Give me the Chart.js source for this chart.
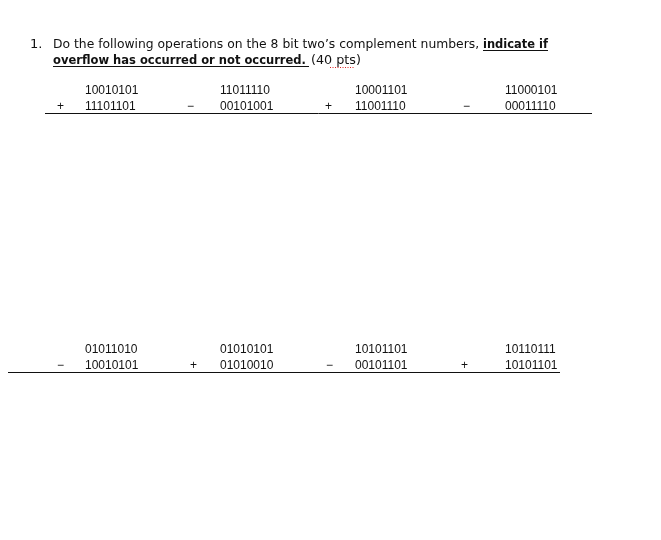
<!DOCTYPE html>
<html><head><meta charset="utf-8">
<script src="https://cdn.jsdelivr.net/npm/chart.js@4"></script>
<style>html,body{margin:0;padding:0;background:#fff}</style>
</head><body>
<canvas id="c" width="661" height="540"></canvas>
<script>
const columns = [85, 220, 355, 505];
const row1Top = ["10010101","11011110","10001101","11000101"];
const row1Bottom = ["11101101","00101001","11001110","00011110"];
const row1Ops = ["+","−","+","−"];
const row2Top = ["01011010","01010101","10101101","10110111"];
const row2Bottom = ["10010101","01010010","00101101","10101101"];
const row2Ops = ["−","+","−","+"];
const opX1 = [57, 187, 325, 463];
const opX2 = [57, 190, 326, 461];

const textPlugin = {
  id: 'doc',
  afterDraw(chart) {
    const ctx = chart.ctx, X = chart.scales.x, Y = chart.scales.y;
    const px = v => X.getPixelForValue(v), py = v => Y.getPixelForValue(v);
    ctx.save();
    ctx.fillStyle = '#111'; ctx.strokeStyle = '#111';
    ctx.textBaseline = 'alphabetic';
    ctx.font = '13px "DejaVu Sans"';
    ctx.fillText('1.', px(30), py(48));
    const l1a = 'Do the following operations on the 8 bit two’s complement numbers, ';
    ctx.fillText(l1a, px(53), py(48), 430);
    ctx.font = 'bold 13px "DejaVu Sans"';
    ctx.fillText('indicate if', px(483), py(48), 65);
    ctx.fillText('overflow has occurred or not occurred.', px(53), py(64), 253);
    ctx.font = '13px "DejaVu Sans"';
    ctx.fillText('(40 pts)', px(311), py(64), 50);
    ctx.lineWidth = 1;
    ctx.beginPath();
    ctx.moveTo(px(483), py(50.5)); ctx.lineTo(px(548), py(50.5));
    ctx.moveTo(px(53), py(66.5)); ctx.lineTo(px(309), py(66.5));
    ctx.stroke();
    ctx.strokeStyle = '#d22'; ctx.setLineDash([1,1.5]);
    ctx.beginPath(); ctx.moveTo(px(330), py(67.5)); ctx.lineTo(px(354), py(67.5)); ctx.stroke();
    ctx.setLineDash([]); ctx.strokeStyle = '#111';

    ctx.font = '12px "Liberation Sans"';
    const drawRow = (tops, bots, ops, opx, yTop, yBot, yLine, lx0, lx1) => {
      for (let i = 0; i < columns.length; i++) {
        ctx.fillText(tops[i], px(columns[i]), py(yTop), 56);
        ctx.fillText(bots[i], px(columns[i]), py(yBot), 56);
        ctx.fillText(ops[i], px(opx[i]), py(yBot));
      }
      ctx.beginPath(); ctx.moveTo(px(lx0), py(yLine)); ctx.lineTo(px(lx1), py(yLine)); ctx.stroke();
    };
    drawRow(row1Top, row1Bottom, row1Ops, opX1, 94, 110, 113.5, 45, 592);
    drawRow(row2Top, row2Bottom, row2Ops, opX2, 353, 369, 372.5, 8, 560);
    ctx.restore();
  }
};

new Chart(document.getElementById('c'), {
  type: 'scatter',
  data: { datasets: [{ data: [] }] },
  options: {
    responsive: false, animation: false,
    layout: { padding: 0 },
    plugins: { legend: { display: false }, tooltip: { enabled: false } },
    scales: {
      x: { type: 'linear', min: 0, max: 661, display: false },
      y: { type: 'linear', min: 0, max: 540, reverse: true, display: false }
    }
  },
  plugins: [textPlugin]
});
</script>
</body></html>
